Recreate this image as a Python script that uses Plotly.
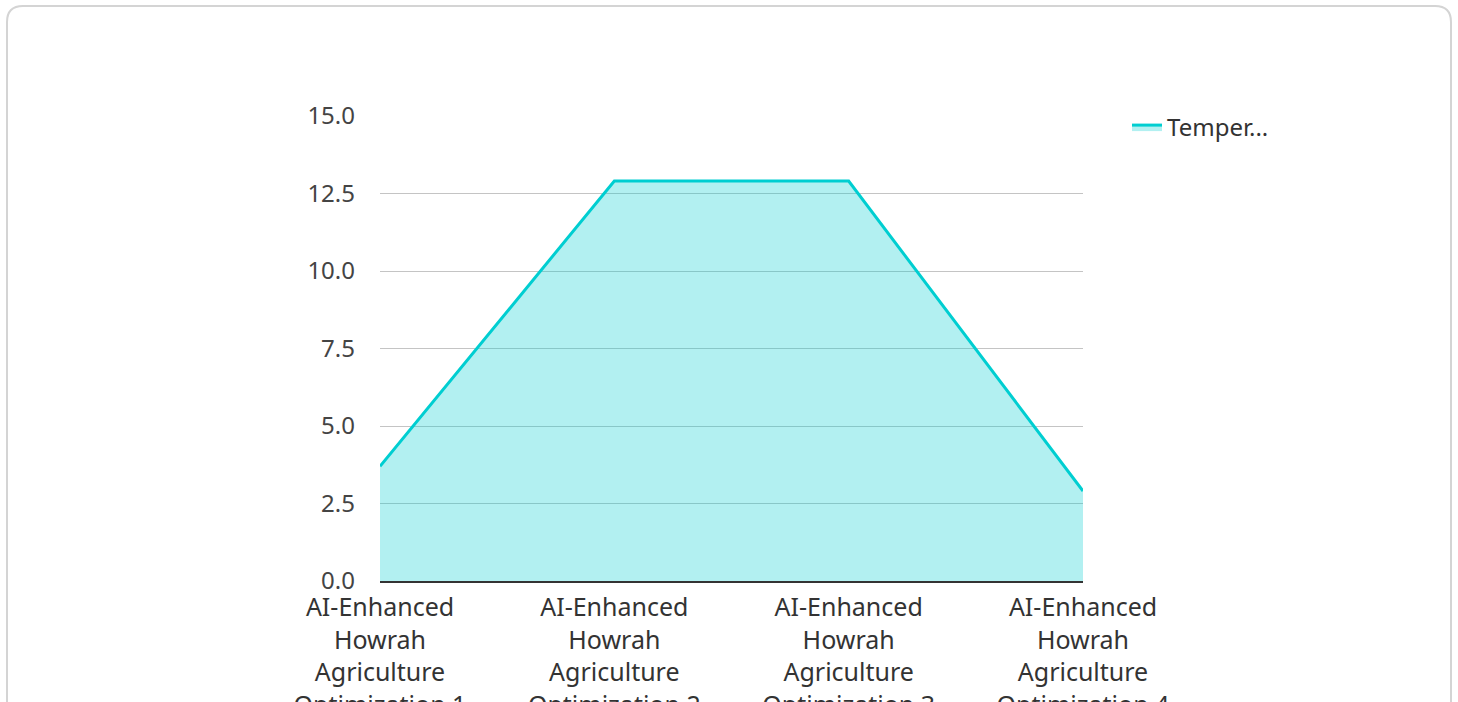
import plotly.graph_objects as go

categories = [
    "AI-Enhanced<br>Howrah<br>Agriculture<br>Optimization 1",
    "AI-Enhanced<br>Howrah<br>Agriculture<br>Optimization 2",
    "AI-Enhanced<br>Howrah<br>Agriculture<br>Optimization 3",
    "AI-Enhanced<br>Howrah<br>Agriculture<br>Optimization 4",
]
temperature = [3.7, 12.9, 12.9, 2.9]
series_name = "Temper..."
y_ticks = [0, 2.5, 5, 7.5, 10, 12.5, 15]
y_tick_labels = ["0.0", "2.5", "5.0", "7.5", "10.0", "12.5", "15.0"]

W, H = 1458, 702
L, R, T, B = 380, 1083, 116, 581

def px(x):
    return (x - L) / (R - L)

def py(y):
    return (B - y) / (B - T)

fig = go.Figure()
fig.add_trace(go.Scatter(
    x=categories, y=temperature, name=series_name,
    mode="lines", fill="tozeroy",
    line=dict(color="#00CED1", width=3),
    fillcolor="rgba(0,206,209,0.3)",
))

# card border with rounded corners
x0, y0, x1, y1, r = 7, 6, 1451, 730, 16
path = (
    f"M {px(x0)},{py(y0 + r)} "
    f"Q {px(x0)},{py(y0)} {px(x0 + r)},{py(y0)} "
    f"L {px(x1 - r)},{py(y0)} "
    f"Q {px(x1)},{py(y0)} {px(x1)},{py(y0 + r)} "
    f"L {px(x1)},{py(y1)} L {px(x0)},{py(y1)} Z"
)
fig.add_shape(type="path", path=path, xref="paper", yref="paper",
              line=dict(color="#d4d4d4", width=2), layer="below")

fig.update_layout(
    width=W, height=H,
    margin=dict(l=L, r=W - R, t=T, b=H - B, pad=0, autoexpand=False),
    paper_bgcolor="white", plot_bgcolor="white",
    font=dict(family="Noto Sans", size=24, color="#444"),
    showlegend=True,
    legend=dict(x=px(1127), y=py(105), xanchor="left", yanchor="top",
                font=dict(size=24, color="#333"), bgcolor="rgba(0,0,0,0)"),
    xaxis=dict(
        type="category", range=[0, 3], showgrid=False, automargin=False,
        showline=True, linecolor="#333", linewidth=2,
        ticks="", ticklabelstandoff=3, tickfont=dict(size=25, color="#333"),
    ),
    yaxis=dict(
        range=[0, 15], tickvals=y_ticks, ticktext=y_tick_labels,
        showgrid=True, gridcolor="#c4c4c4", gridwidth=1, automargin=False,
        zeroline=False, showline=False, ticks="",
        ticklabelstandoff=24, tickfont=dict(size=24, color="#444"),
    ),
)

fig.write_html("out.html")
